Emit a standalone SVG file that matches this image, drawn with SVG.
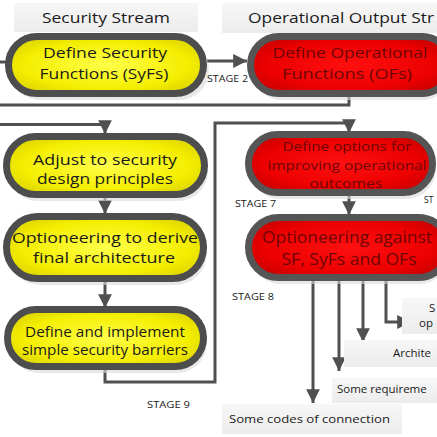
<svg xmlns="http://www.w3.org/2000/svg" width="437" height="437" viewBox="0 0 437 437">
<defs>
<radialGradient id="gy" cx="50%" cy="50%" r="60%">
<stop offset="0" stop-color="#ffff4a"/><stop offset="0.7" stop-color="#f4ee00"/><stop offset="1" stop-color="#dcd400"/>
</radialGradient>
<radialGradient id="gr" cx="50%" cy="50%" r="60%">
<stop offset="0" stop-color="#ff1010"/><stop offset="0.7" stop-color="#ec0000"/><stop offset="1" stop-color="#c80000"/>
</radialGradient>
<linearGradient id="gb" x1="0" y1="0" x2="0" y2="1">
<stop offset="0" stop-color="#f7f7f7"/><stop offset="1" stop-color="#ececec"/>
</linearGradient>
<marker id="ah" viewBox="0 0 10 10" refX="10" refY="5" markerWidth="4.6" markerHeight="4.6" markerUnits="strokeWidth" orient="auto">
<path d="M0,0 L10,5 L0,10 Z" fill="#505050"/>
</marker>
</defs>
<style>
.hdr{fill:url(#gb)}
.box{fill:url(#gb)}
.ny{fill:url(#gy);stroke:#4d4d4d;stroke-width:7}
.nr{fill:url(#gr);stroke:#555;stroke-width:7}
.sh{fill:#d8d8d8;opacity:0.6}
.ty{font-family:"Open Sans","Noto Sans",sans-serif;font-size:15px;fill:#1a1a1a;text-anchor:middle}
.tr{font-family:"Open Sans","Noto Sans",sans-serif;font-size:15px;fill:#6e0606;text-anchor:middle}
.th{font-family:"Open Sans","Noto Sans",sans-serif;font-size:15px;fill:#1a1a1a}
.tb{font-family:"Open Sans","Noto Sans",sans-serif;font-size:11.5px;fill:#1a1a1a}
.st{font-family:"Open Sans","Noto Sans",sans-serif;font-size:8.5px;fill:#1a1a1a}
.c{fill:none;stroke:#505050;stroke-width:3}
</style>

<g id="headers">
<rect class="hdr" x="14" y="3" width="184" height="29"/>
<text class="th" x="106" y="23" text-anchor="middle" textLength="128" lengthAdjust="spacingAndGlyphs">Security Stream</text>
<rect class="hdr" x="222" y="3" width="220" height="30"/>
<text class="th" x="248" y="23" textLength="186" lengthAdjust="spacingAndGlyphs">Operational Output Str</text>
</g>

<g id="connectors">
<path class="c" d="M0,62 L6,62"/>
<path class="c" d="M207,61 L247,61" marker-end="url(#ah)"/>
<path class="c" d="M349,97 L349,105 L0,105"/>
<path class="c" d="M0,124.5 L105,124.5 L105,134" marker-end="url(#ah)"/>
<path class="c" d="M105,197 L105,214" marker-end="url(#ah)"/>
<path class="c" d="M105,281 L105,308" marker-end="url(#ah)"/>
<path class="c" d="M105,369 L105,382 L215,382 L215,123 L349,123 L349,133" marker-end="url(#ah)"/>
<path class="c" d="M349,195 L349,215" marker-end="url(#ah)"/>
<path class="c" d="M313,279 L313,403" marker-end="url(#ah)"/>
<path class="c" d="M339,279 L339,371" marker-end="url(#ah)"/>
<path class="c" d="M363,279 L363,342" marker-end="url(#ah)"/>
<path class="c" d="M386,279 L386,322 L411,322" marker-end="url(#ah)"/>
</g>

<g id="n1">
<rect class="sh" x="10" y="40" width="199" height="60" rx="30"/>
<rect class="ny" x="8.5" y="36.5" width="195" height="57" rx="28.5"/>
<text class="ty" x="105" y="58" textLength="124" lengthAdjust="spacingAndGlyphs">Define Security</text>
<text class="ty" x="104" y="79" textLength="129" lengthAdjust="spacingAndGlyphs">Functions (SyFs)</text>
</g>

<g id="n2">
<rect class="sh" x="252" y="40" width="200" height="60" rx="30"/>
<rect class="nr" x="250.5" y="36.5" width="200" height="57" rx="28.5"/>
<text class="tr" x="350" y="58" textLength="155" lengthAdjust="spacingAndGlyphs">Define Operational</text>
<text class="tr" x="347" y="79" textLength="130" lengthAdjust="spacingAndGlyphs">Functions (OFs)</text>
</g>

<g id="n3">
<rect class="sh" x="8" y="140" width="200" height="61" rx="30"/>
<rect class="ny" x="6.5" y="136.5" width="198" height="58" rx="29"/>
<text class="ty" x="105" y="165" textLength="144" lengthAdjust="spacingAndGlyphs">Adjust to security</text>
<text class="ty" x="105" y="184" textLength="136" lengthAdjust="spacingAndGlyphs">design principles</text>
</g>

<g id="n4">
<rect class="sh" x="8" y="220" width="199" height="65" rx="32"/>
<rect class="ny" x="6.5" y="216.5" width="197" height="62" rx="31"/>
<text class="ty" x="105" y="243" textLength="186" lengthAdjust="spacingAndGlyphs">Optioneering to derive</text>
<text class="ty" x="104" y="263" textLength="142" lengthAdjust="spacingAndGlyphs">final architecture</text>
</g>

<g id="n5">
<rect class="sh" x="9" y="313" width="198" height="60" rx="30"/>
<rect class="ny" x="7.5" y="309.5" width="196" height="57" rx="28.5"/>
<text class="ty" x="105" y="337" style="font-size:14px" textLength="160" lengthAdjust="spacingAndGlyphs">Define and implement</text>
<text class="ty" x="105" y="355" style="font-size:14px" textLength="166" lengthAdjust="spacingAndGlyphs">simple security barriers</text>
</g>

<g id="n6">
<rect class="sh" x="250" y="138" width="186" height="61" rx="30"/>
<rect class="nr" x="248.5" y="134.5" width="184" height="58" rx="29"/>
<text class="tr" x="347" y="151" style="font-size:13px" textLength="129" lengthAdjust="spacingAndGlyphs">Define options for</text>
<text class="tr" x="347" y="170" style="font-size:13px" textLength="159" lengthAdjust="spacingAndGlyphs">improving operational</text>
<text class="tr" x="346" y="188" style="font-size:13px" textLength="73" lengthAdjust="spacingAndGlyphs">outcomes</text>
</g>

<g id="n7">
<rect class="sh" x="250" y="221" width="200" height="63" rx="31"/>
<rect class="nr" x="248.5" y="217.5" width="200" height="60" rx="30"/>
<text class="tr" x="347" y="243" style="font-size:16px" textLength="170" lengthAdjust="spacingAndGlyphs">Optioneering against</text>
<text class="tr" x="349" y="265" style="font-size:16px" textLength="135" lengthAdjust="spacingAndGlyphs">SF, SyFs and OFs</text>
</g>

<g id="outputs">
<rect class="box" x="402" y="298" width="40" height="36"/>
<text class="tb" x="429" y="312">S</text>
<text class="tb" x="419" y="327">op</text>
<rect class="box" x="344" y="340" width="100" height="27"/>
<text class="tb" x="393" y="357">Archite</text>
<rect class="box" x="332" y="378" width="110" height="25"/>
<text class="tb" x="337" y="393">Some requireme</text>
<rect class="box" x="222" y="404" width="180" height="30"/>
<text class="tb" x="229" y="423" textLength="161" lengthAdjust="spacingAndGlyphs">Some codes of connection</text>
</g>

<g id="stages">
<text class="st" x="207" y="82" textLength="41" lengthAdjust="spacingAndGlyphs">STAGE 2</text>
<text class="st" x="235" y="207" textLength="41" lengthAdjust="spacingAndGlyphs">STAGE 7</text>
<text class="st" x="424" y="203">ST</text>
<text class="st" x="232" y="300" textLength="42" lengthAdjust="spacingAndGlyphs">STAGE 8</text>
<text class="st" x="147" y="408" textLength="43" lengthAdjust="spacingAndGlyphs">STAGE 9</text>
</g>
</svg>
